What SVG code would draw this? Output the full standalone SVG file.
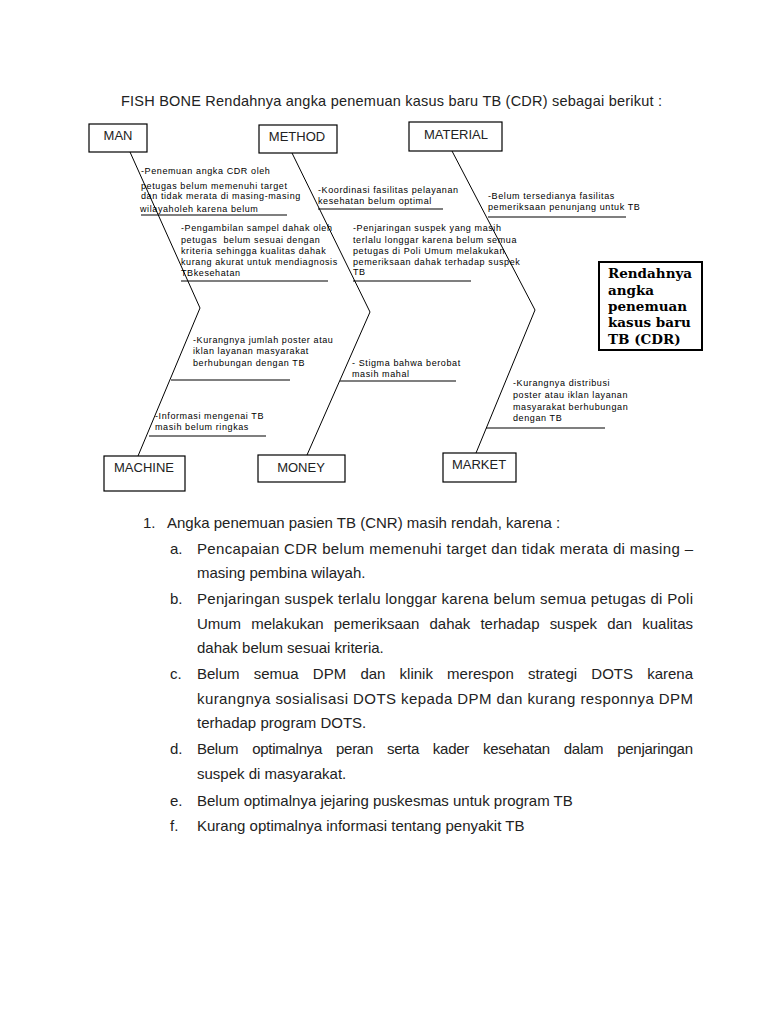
<svg xmlns="http://www.w3.org/2000/svg" width="768" height="1024" viewBox="0 0 768 1024">
<style>
.bg{fill:#ffffff}
.box{fill:#ffffff;stroke:#000;stroke-width:1.2}
.rbox{fill:#ffffff;stroke:#000;stroke-width:2}
.lbl{font-family:"Liberation Sans",Arial,sans-serif;font-size:13px;fill:#222;text-anchor:middle}
.bone{stroke:#000;stroke-width:1;fill:none}
.ul{stroke:#000;stroke-width:1.2}
.sm{font-family:"Liberation Sans",Arial,sans-serif;font-size:9px;letter-spacing:0.6px;fill:#000}
.title{font-family:"Liberation Sans",Arial,sans-serif;font-size:14.5px;fill:#222}
.body{font-family:"Liberation Sans",Arial,sans-serif;font-size:15px;fill:#222}
.res{font-family:"DejaVu Serif","Liberation Serif",serif;font-size:13.5px;font-weight:bold;fill:#000}
</style>
<rect class="bg" x="0" y="0" width="768" height="1024"/>
<text class="title" x="121" y="106" textLength="541" lengthAdjust="spacing">FISH BONE Rendahnya angka penemuan kasus baru TB (CDR) sebagai berikut :</text>

<g id="connectors">
<polyline class="bone" points="130,152 200,308 138,456"/>
<polyline class="bone" points="292,153 370,312 307,455"/>
<polyline class="bone" points="452,151 535,310 476,453"/>
<line class="ul" x1="141" y1="215" x2="287" y2="215"/>
<line class="ul" x1="318" y1="209" x2="443" y2="209"/>
<line class="ul" x1="488" y1="217" x2="626" y2="217"/>
<line class="ul" x1="181" y1="281" x2="328" y2="281"/>
<line class="ul" x1="353" y1="281" x2="471" y2="281"/>
<line class="ul" x1="171" y1="380" x2="290" y2="380"/>
<line class="ul" x1="149" y1="436" x2="266" y2="436"/>
<line class="ul" x1="340" y1="381" x2="456" y2="381"/>
<line class="ul" x1="486" y1="428" x2="605" y2="428"/>
</g>

<g id="man"><rect class="box" x="89" y="124" width="58" height="28"/><text class="lbl" x="118" y="140">MAN</text></g>
<g id="method"><rect class="box" x="259" y="125" width="78" height="28"/><text class="lbl" x="297" y="141">METHOD</text></g>
<g id="material"><rect class="box" x="409" y="122" width="93" height="29"/><text class="lbl" x="456" y="139">MATERIAL</text></g>
<g id="machine"><rect class="box" x="104" y="456" width="81" height="35"/><text class="lbl" x="144" y="472">MACHINE</text></g>
<g id="money"><rect class="box" x="258" y="455" width="87" height="27"/><text class="lbl" x="301" y="472">MONEY</text></g>
<g id="market"><rect class="box" x="443" y="453" width="73" height="29"/><text class="lbl" x="479" y="469">MARKET</text></g>

<g id="result">
<rect class="rbox" x="599" y="262" width="103" height="88"/>
<text class="res" x="608" y="278">Rendahnya</text>
<text class="res" x="608" y="295">angka</text>
<text class="res" x="608" y="311">penemuan</text>
<text class="res" x="608" y="327">kasus baru</text>
<text class="res" x="608" y="344">TB (CDR)</text>
</g>

<g id="cause-man-1">
<text class="sm" x="141" y="174">-Penemuan angka CDR oleh</text>
<text class="sm" x="141" y="189">petugas belum memenuhi target</text>
<text class="sm" x="141" y="199">dan tidak merata di masing-masing</text>
<text class="sm" x="140" y="212">wilayaholeh karena belum</text>
</g>
<g id="cause-method-1">
<text class="sm" x="318" y="193">-Koordinasi fasilitas pelayanan</text>
<text class="sm" x="318" y="204">kesehatan belum optimal</text>
</g>
<g id="cause-material-1">
<text class="sm" x="488" y="199">-Belum tersedianya fasilitas</text>
<text class="sm" x="488" y="210">pemeriksaan penunjang untuk TB</text>
</g>
<g id="cause-man-2">
<text class="sm" x="181" y="231">-Pengambilan sampel dahak oleh</text>
<text class="sm" x="181" y="243" xml:space="preserve">petugas  belum sesuai dengan</text>
<text class="sm" x="181" y="254">kriteria sehingga kualitas dahak</text>
<text class="sm" x="181" y="265">kurang akurat untuk mendiagnosis</text>
<text class="sm" x="181" y="276">TBkesehatan</text>
</g>
<g id="cause-method-2">
<text class="sm" x="353" y="231">-Penjaringan suspek yang masih</text>
<text class="sm" x="353" y="243">terlalu longgar karena belum semua</text>
<text class="sm" x="353" y="254">petugas di Poli Umum melakukan</text>
<text class="sm" x="353" y="265">pemeriksaan dahak terhadap suspek</text>
<text class="sm" x="353" y="275">TB</text>
</g>
<g id="cause-machine-1">
<text class="sm" x="193" y="343">-Kurangnya jumlah poster atau</text>
<text class="sm" x="193" y="354">iklan layanan masyarakat</text>
<text class="sm" x="193" y="366">berhubungan dengan TB</text>
</g>
<g id="cause-machine-2">
<text class="sm" x="155" y="419">-Informasi mengenai TB</text>
<text class="sm" x="155" y="430">masih belum ringkas</text>
</g>
<g id="cause-money-1">
<text class="sm" x="352" y="366">- Stigma bahwa berobat</text>
<text class="sm" x="352" y="377">masih mahal</text>
</g>
<g id="cause-market-1">
<text class="sm" x="513" y="386">-Kurangnya distribusi</text>
<text class="sm" x="513" y="398">poster atau iklan layanan</text>
<text class="sm" x="513" y="410">masyarakat berhubungan</text>
<text class="sm" x="513" y="421">dengan TB</text>
</g>

<g id="list">
<text class="body" x="143" y="528">1.</text>
<text class="body" x="167" y="528">Angka penemuan pasien TB (CNR) masih rendah, karena :</text>
<text class="body" x="170" y="554">a.</text>
<text class="body" x="197" y="554" textLength="496" lengthAdjust="spacing">Pencapaian CDR belum memenuhi target dan tidak merata di masing –</text>
<text class="body" x="197" y="578">masing pembina wilayah.</text>
<text class="body" x="170" y="604">b.</text>
<text class="body" x="197" y="604" textLength="496" lengthAdjust="spacing">Penjaringan suspek terlalu longgar karena belum semua petugas di Poli</text>
<text class="body" x="197" y="629" textLength="496" lengthAdjust="spacing" word-spacing="6">Umum melakukan pemeriksaan dahak terhadap suspek dan kualitas</text>
<text class="body" x="197" y="653">dahak belum sesuai kriteria.</text>
<text class="body" x="170" y="679">c.</text>
<text class="body" x="197" y="679" textLength="496" lengthAdjust="spacing" word-spacing="10">Belum semua DPM dan klinik merespon strategi DOTS karena</text>
<text class="body" x="197" y="704" textLength="496" lengthAdjust="spacing">kurangnya sosialisasi DOTS kepada DPM dan kurang responnya DPM</text>
<text class="body" x="197" y="728">terhadap program DOTS.</text>
<text class="body" x="170" y="754">d.</text>
<text class="body" x="197" y="754" textLength="496" lengthAdjust="spacing" word-spacing="10">Belum optimalnya peran serta kader kesehatan dalam penjaringan</text>
<text class="body" x="197" y="779">suspek di masyarakat.</text>
<text class="body" x="170" y="806">e.</text>
<text class="body" x="197" y="806">Belum optimalnya jejaring puskesmas untuk program TB</text>
<text class="body" x="170" y="831">f.</text>
<text class="body" x="197" y="831">Kurang optimalnya informasi tentang penyakit TB</text>
</g>
</svg>
